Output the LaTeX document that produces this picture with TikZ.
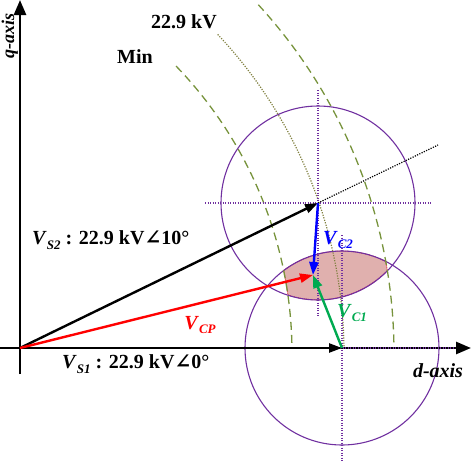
\documentclass[tikz,border=0pt]{standalone}
\usepackage{fontspec}
\setmainfont{Liberation Serif}
\newfontfamily\djv{DejaVu Serif}
\usetikzlibrary{arrows.meta}
\definecolor{cpurple}{RGB}{112,48,160}
\definecolor{colive}{RGB}{119,147,60}
\definecolor{colived}{RGB}{128,128,64}
\definecolor{cred}{RGB}{255,0,0}
\definecolor{cgreen}{RGB}{0,170,80}
\definecolor{cblue}{RGB}{0,0,255}
\definecolor{clens}{RGB}{224,176,174}
\definecolor{clensb}{RGB}{215,20,40}
\newcommand\mysub[1]{\raisebox{-0.22em}{\fontsize{13}{13}\selectfont\textit{#1}}}
\begin{document}
\begin{tikzpicture}[x=1pt,y=-1pt,
  lab/.style={font=\fontsize{20}{24}\selectfont\bfseries, inner sep=0pt},
  axisline/.style={line width=2.6pt, -{Triangle[length=15pt,width=12pt]}},
  vecline/.style={line width=2.4pt, -{Triangle[length=13pt,width=9pt]}},
  circ/.style={draw=cpurple, line width=1.1pt},
  voltdash/.style={draw=colive, line width=1.3pt, dash pattern=on 8pt off 5pt},
  voltdot/.style={draw=colived, line width=1.2pt, dash pattern=on 1.2pt off 1.4pt},
  pdot/.style={draw=cpurple, line width=1.2pt, dash pattern=on 1.2pt off 1.3pt},
  kdot/.style={draw=black, line width=1.2pt, dash pattern=on 1.2pt off 1.3pt}]
\useasboundingbox (0,0) rectangle (474,461);
\coordinate (O) at (20,348);
\coordinate (C1) at (342,348);
\coordinate (C2) at (318,203);
\coordinate (P) at (313,275);
\coordinate (Oc) at (-121,353);
\coordinate (Ext) at (438,145);
\coordinate (dS) at (0,348);
\coordinate (dE) at (471,348);
\coordinate (qS) at (20,374);
\coordinate (qE) at (20,0);
\coordinate (h2a) at (205,203);
\coordinate (h2b) at (432,203);
\coordinate (v2a) at (318,90);
\coordinate (v2b) at (318,317);
\coordinate (v1a) at (342,235);
\coordinate (v1b) at (342,461);
\coordinate (h1a) at (230,348);
\coordinate (h1b) at (455,348);
% lens
\path[fill=clens, draw=clensb, line width=0.9pt, dash pattern=on 1pt off 1pt]
  ([shift={(-126.97:97)}]C1) arc[start angle=-126.97, end angle=-63.15, radius=97]
  arc[start angle=-10.23, end angle=-9.2, radius=515]
  arc[start angle=44.3, end angle=108.05, radius=97]
  arc[start angle=-8.04, end angle=-11.52, radius=413] -- cycle;
% circles
\draw[circ] (C1) circle[radius=97];
\draw[circ] (C2) circle[radius=97];
% voltage arcs
\draw[voltdash] ([shift={(-44:413)}]Oc) arc[start angle=-44, end angle=-0.7, radius=413];
\draw[voltdot] ([shift={(-43.25:465)}]Oc) arc[start angle=-43.25, end angle=-0.6, radius=465];
\draw[voltdash] ([shift={(-42.56:515)}]Oc) arc[start angle=-42.56, end angle=-0.56, radius=515];
% dotted guides
\draw[pdot] (h2a) -- (h2b);
\draw[pdot] (v2a) -- (v2b);
\draw[pdot] (v1a) -- (v1b);
\draw[kdot] (C2) -- (Ext);
% axes
\draw[axisline] (dS) -- (dE);
\draw[axisline] (qS) -- (qE);
\draw[pdot] (h1a) -- (h1b);
% vectors
\draw[vecline, black] (O) -- (C1);
\draw[vecline, black] (O) -- (C2);
\draw[vecline, cred] (O) -- (P);
\draw[vecline, cblue] (C2) -- (P);
\draw[vecline, cgreen] (C1) -- (P);
% labels
\node[lab] (l229) at (184,22) {22.9 kV};
\node[lab] (lmin) at (135,57) {Min};
\node[lab, anchor=west] (lvs2) at (32,240) {\textit{V}\mysub{S2} : 22.9 kV{\djv∠}10°};
\node[lab, anchor=west] (lvs1) at (62,364) {\textit{V}\mysub{S1} : 22.9 kV{\djv∠}0°};
\node[lab, text=cred] (lvcp) at (200,325) {\textit{V}\mysub{CP}};
\node[lab, text=cblue] (lvc2) at (338,240) {\textit{V}\mysub{C2}};
\node[lab, text=cgreen] (lvc1) at (352,313) {\textit{V}\mysub{C1}};
\node[lab] (ld) at (438,371) {\textit{d-axis}};
\node[lab, font=\fontsize{18}{22}\selectfont\bfseries, rotate=90, anchor=base] (lq) at (14,36) {\textit{q-axis}};
\end{tikzpicture}
\end{document}
